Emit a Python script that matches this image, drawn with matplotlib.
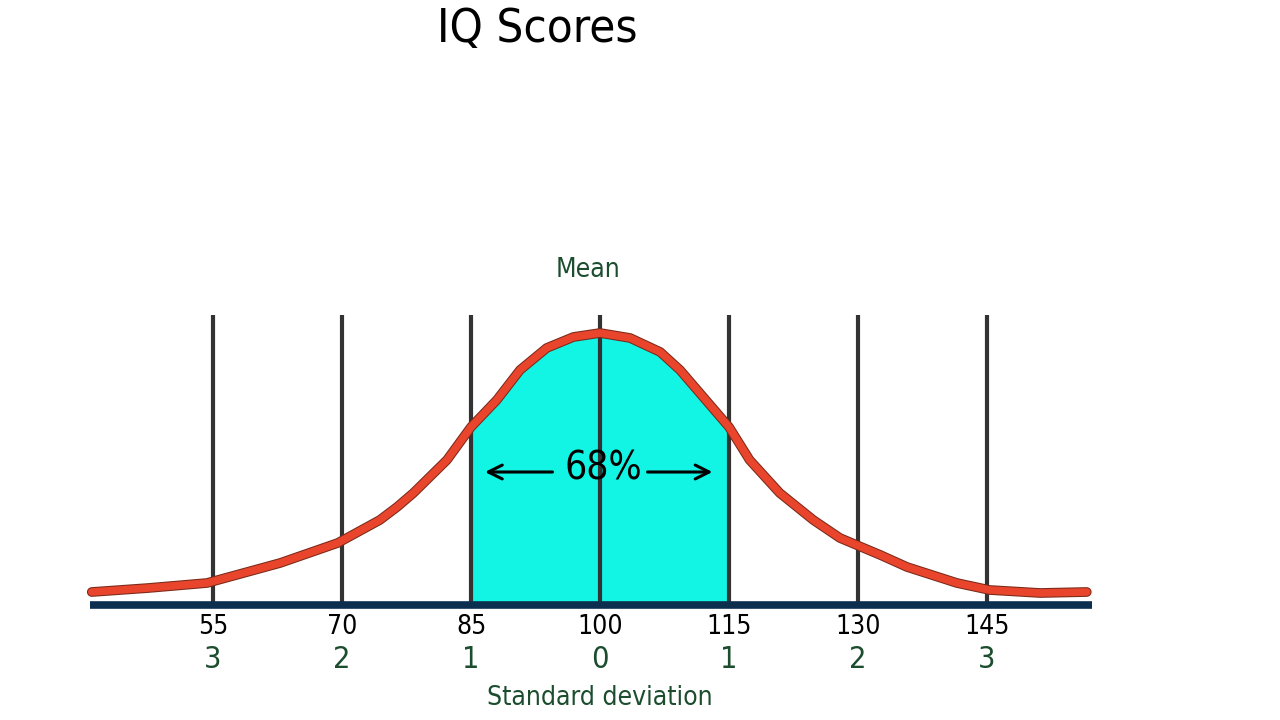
import matplotlib
matplotlib.use('Agg')
import matplotlib.pyplot as plt
import matplotlib.patheffects as pe
import numpy as np

# curve (IQ score, height above the axis)
iq = [40.9, 47.5, 54.3, 62.8, 69.5, 74.4, 76.4, 78.3, 82.2, 85.0, 88.0, 90.7,
      93.8, 96.9, 100.0, 103.5, 107.0, 109.3, 111.6, 115.0, 117.4, 120.9,
      124.8, 127.9, 132.6, 135.7, 141.5, 145.3, 151.2, 156.6]
height = [13, 17, 22, 42, 62, 85, 98, 112, 145, 178, 205, 235,
          257, 268, 272, 267, 253, 235, 212, 178, 145, 112,
          85, 67, 50, 38, 22, 15, 12, 13]

score_ticks = [55, 70, 85, 100, 115, 130, 145]
score_labels = ['55', '70', '85', '100', '115', '130', '145']
sd_labels = ['3', '2', '1', '0', '1', '2', '3']

fig = plt.figure(figsize=(12.8, 7.2), dpi=100)
ax = fig.add_axes([0, 0, 1, 1])
ax.set_xlim(30.23, 179.07)
ax.set_ylim(-115, 605)
ax.axis('off')

x = np.array(iq)
y = np.array(height)

# shaded one-sd band
band = (x >= 85) & (x <= 115)
ax.fill_between(x, 0, y, where=band, color='#12f4e4', zorder=1)

# vertical guide lines
ax.vlines(score_ticks, 0, 290, color='#333333', lw=3, zorder=2)

# the curve
ax.plot(x, y, color='#e8452c', lw=5.5, solid_capstyle='round',
        solid_joinstyle='round', zorder=3,
        path_effects=[pe.Stroke(linewidth=7, foreground='#7a2a1a'), pe.Normal()])

# axis line
ax.plot([40.7, 157.2], [0, 0], color='#0d2f4f', lw=5.5, solid_capstyle='butt', zorder=4)

hand = dict(family='DejaVu Sans', fontstretch='condensed')
green = '#1b4d2e'

for t, s, d in zip(score_ticks, score_labels, sd_labels):
    ax.text(t, -22, s, ha='center', va='center', fontsize=19, color='black', **hand)
    ax.text(t, -55, d, ha='center', va='center', fontsize=22, color=green, **hand)

ax.text(100, -93, 'Standard deviation', ha='center', va='center', fontsize=19,
        color=green, **hand)
ax.text(98.6, 335, 'Mean', ha='center', va='center', fontsize=19, color=green, **hand)
ax.text(92.7, 575, 'IQ Scores', ha='center', va='center', fontsize=34, color='black', **hand)

ax.text(100.35, 137, '68%', ha='center', va='center', fontsize=28, color='black',
        zorder=5, **hand)
ax.annotate('', xy=(86.3, 133), xytext=(94.8, 133),
            arrowprops=dict(arrowstyle='->', color='black', lw=2.2, mutation_scale=25), zorder=5)
ax.annotate('', xy=(113.4, 133), xytext=(105.2, 133),
            arrowprops=dict(arrowstyle='->', color='black', lw=2.2, mutation_scale=25), zorder=5)

plt.savefig('out.png', dpi=100, facecolor='white')
